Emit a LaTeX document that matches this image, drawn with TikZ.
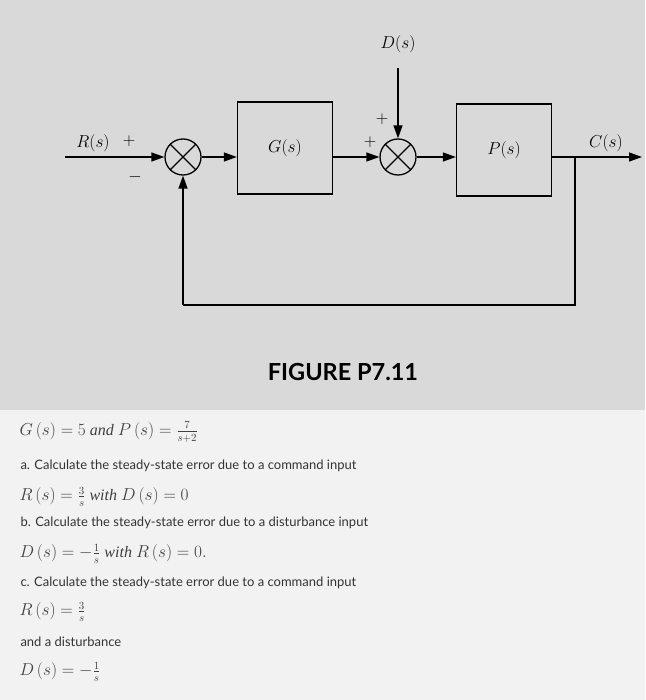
\documentclass[tikz,border=0pt]{standalone}
\usepackage{fontspec}
\setmainfont{Liberation Serif}
\newfontfamily\txt{Lato}
\usetikzlibrary{arrows.meta}
\begin{document}
\begin{tikzpicture}[x=1pt,y=-1pt,
  blk/.style={draw,line width=1.3pt,minimum width=95pt,minimum height=92pt,font=\fontsize{19}{22}\selectfont},
  sumj/.style={draw,line width=1.3pt,circle,minimum size=36pt,inner sep=0pt,path picture={\draw[line width=1.3pt] (path picture bounding box.north west)--(path picture bounding box.south east) (path picture bounding box.north east)--(path picture bounding box.south west);}},
  sig/.style={line width=1.3pt,-{Triangle[length=13pt,width=9pt]}},
  lbl/.style={font=\fontsize{19}{22}\selectfont},
  qtxt/.style={anchor=west,font=\txt\fontsize{13}{16}\selectfont,text=black!80},
  qm/.style={anchor=west,text=black!75,font=\fontsize{16}{19}\selectfont}]
\useasboundingbox (0,0) rectangle (645,700);
\fill[black!5] (0,0) rectangle (645,700);
\fill[black!15] (0,0) rectangle (645,410);
\node[sumj] (s1) at (183,157) {};
\node[blk] (g) at (285,148) {$G(s)$};
\node[sumj] (s2) at (398,157) {};
\node[blk] (p) at (504,150) {$P(s)$};
\coordinate (rin) at (65,157);
\coordinate (cout) at (642,157);
\coordinate (br) at (575,157);
\coordinate (bd) at (575,305);
\coordinate (bl) at (183,305);
\coordinate (din) at (398,68);
\draw[sig] (rin) -- (s1);
\draw[sig] (s1) -- (g.west|-s1);
\draw[sig] (g.east|-s2) -- (s2);
\draw[sig] (s2) -- (p.west|-s2);
\draw[sig] (p.east|-s2) -- (cout);
\draw[line width=1.3pt] (br) -- (bd) -- (bl);
\draw[sig] (bl) -- (s1);
\draw[sig] (din) -- (s2);
\node[lbl] (dl) at (398,44) {$D(s)$};
\node[lbl] (rl) at (93,143) {$R(s)$};
\node[lbl] (cl) at (606,143) {$C(s)$};
\node[lbl] (p1) at (129,141) {$+$};
\node[lbl] (m1) at (135,177) {$-$};
\node[lbl] (p2) at (382,119) {$+$};
\node[lbl] (p3) at (370,142) {$+$};
\node[font=\txt\bfseries\fontsize{23.5}{26}\selectfont] (fig) at (343,372) {FIGURE P7.11};
\node[qm] (t1) at (16,432) {$G\left(s\right)=5\ \mathit{and}\ P\left(s\right)=\frac{7}{s+2}$};
\node[qtxt] (t2) at (17,466) {a. Calculate the steady-state error due to a command input};
\node[qm] (t3) at (16,497) {$R\left(s\right)=\frac{3}{s}\ \mathit{with}\ D\left(s\right)=0$};
\node[qtxt] (t4) at (17,523) {b. Calculate the steady-state error due to a disturbance input};
\node[qm] (t5) at (16,554) {$D\left(s\right)=-\frac{1}{s}\ \mathit{with}\ R\left(s\right)=0.$};
\node[qtxt] (t6) at (17,583) {c. Calculate the steady-state error due to a command input};
\node[qm] (t7) at (16,612) {$R\left(s\right)=\frac{3}{s}$};
\node[qtxt] (t8) at (17,642) {and a disturbance};
\node[qm] (t9) at (16,672) {$D\left(s\right)=-\frac{1}{s}$};
\end{tikzpicture}
\end{document}
